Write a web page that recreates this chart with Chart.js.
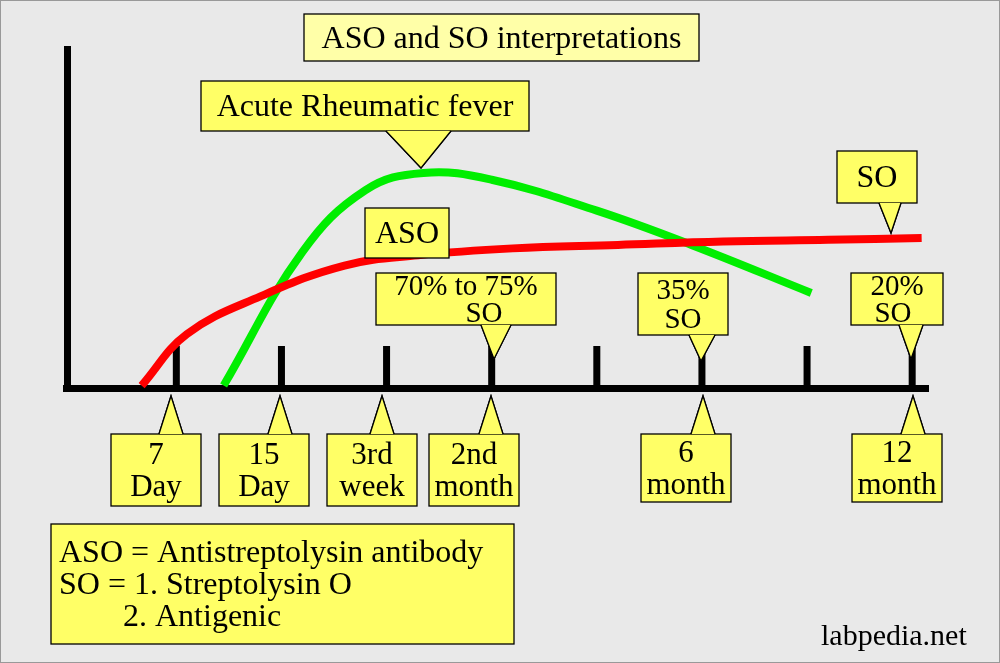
<!DOCTYPE html>
<html><head><meta charset="utf-8">
<script src="https://cdn.jsdelivr.net/npm/chart.js@4"></script>
<style>html,body{margin:0;padding:0;background:#e9e9e9}#w{width:1000px;height:663px;position:relative;box-sizing:border-box;border:1px solid #999}</style>
</head><body><div id="w"><canvas id="c" width="1000" height="663"></canvas></div>
<script>
const tickPositions=[1,2,3,4,5,6,7,8];
const soX=[0.67,1.1,1.8,2.6,3.3,4.2,5.2,6.2,7.2,8.09];
const soY=[1,16,27,36,39,41,42,43,43.5,44];
const asoX=[1.45,2.2,2.8,3.35,4.0,5.0,5.9,7.04];
const asoY=[1,40,58,63,61,52,42,28];
const bottomLabels=[["7","Day"],["15","Day"],["3rd","week"],["2nd","month"],["6","month"],["12","month"]];
const F='"Liberation Serif","DejaVu Serif",serif';
function pts(xs,ys){return xs.map((x,i)=>({x,y:ys[i]}));}
function callout(ctx,x,y,w,h,fill,tri,lines,fs,align,lhf){
 ctx.lineWidth=1.3;ctx.strokeStyle='#000';ctx.fillStyle=fill;
 if(tri){ctx.beginPath();ctx.moveTo(tri[0][0],tri[0][1]);ctx.lineTo(tri[1][0],tri[1][1]);ctx.lineTo(tri[2][0],tri[2][1]);ctx.closePath();ctx.fill();ctx.stroke();}
 ctx.fillRect(x,y,w,h);ctx.strokeRect(x,y,w,h);
 if(tri){ctx.beginPath();ctx.moveTo(tri[0][0],tri[0][1]);ctx.lineTo(tri[1][0],tri[1][1]);ctx.lineTo(tri[2][0],tri[2][1]);ctx.closePath();ctx.fill();
  ctx.beginPath();ctx.moveTo(tri[0][0],tri[0][1]);ctx.lineTo(tri[1][0],tri[1][1]);ctx.lineTo(tri[2][0],tri[2][1]);ctx.stroke();}
 ctx.fillStyle='#000';ctx.font=fs+'px '+F;ctx.textBaseline='middle';
 lines.forEach((l,i)=>{const t=l[0],dx=l[1]||0;const lh=fs*(lhf||1.0);const y0=y+h/2-(lines.length-1)*lh/2+i*lh+2;
  if(align==='left'){ctx.textAlign='left';ctx.fillText(t,x+8+dx,y0);}else{ctx.textAlign='center';ctx.fillText(t,x+w/2+dx,y0);}});
}
const deco={id:'deco',
 beforeDatasetsDraw(ch){const ctx=ch.ctx,xs=ch.scales.x,ys=ch.scales.y;ctx.save();
  const y0=ys.getPixelForValue(0);ctx.fillStyle='#000';
  ctx.fillRect(62,y0-4,866,7);ctx.fillRect(63,45,7,y0-42);
  tickPositions.forEach(t=>{const px=xs.getPixelForValue(t);ctx.fillRect(px-3.5,345,7,y0-345);});
  ctx.restore();},
 afterDraw(ch){const ctx=ch.ctx;ctx.save();
  const Y='#ffff66',P='#ffffa8';
  callout(ctx,303,13,395,47,P,null,[["ASO and SO interpretations"]],32);
  callout(ctx,200,80,328,50,Y,[[385,130],[420,167],[450,130]],[["Acute Rheumatic fever"]],32);
  callout(ctx,364,207,84,50,Y,null,[["ASO"]],32);
  callout(ctx,836,150,80,52,Y,[[878,202],[890,232],[900,202]],[["SO"]],32);
  callout(ctx,375,272,180,52,Y,[[480,324],[493,358],[510,324]],[["70% to 75%"],["SO",18]],29,null,0.95);
  callout(ctx,637,272,90,62,Y,[[688,334],[700,360],[714,334]],[["35%"],["SO"]],29,null,1.0);
  callout(ctx,850,272,92,52,Y,[[898,324],[910,358],[922,324]],[["20%"],["SO",-4]],29,null,0.95);
  const bx=[[110,170],[218,279],[326,381],[428,490],[640,702],[851,912]];
  bottomLabels.forEach((l,i)=>{const [x,ax]=bx[i];const h=i<4?72:68;
   callout(ctx,x,433,90,h,Y,[[ax-12,433],[ax,395],[ax+12,433]],[[l[0]],[l[1]]],31,null,1.05);});
  callout(ctx,50,523,463,120,Y,null,[["ASO = Antistreptolysin antibody"],["SO = 1. Streptolysin O"],["        2. Antigenic",0]],32,'left',1.0);
  ctx.fillStyle='#000';ctx.font='30px '+F;ctx.textAlign='left';ctx.textBaseline='middle';ctx.fillText('labpedia.net',820,636);
  ctx.restore();}};
new Chart(document.getElementById('c'),{type:'line',
 data:{datasets:[
  {label:'SO',data:pts(soX,soY),borderColor:'#ff0000',borderWidth:8,pointRadius:0,tension:0.4},
  {label:'ASO',data:pts(asoX,asoY),borderColor:'#00ee00',borderWidth:8,pointRadius:0,tension:0.4}]},
 options:{responsive:false,animation:false,events:[],layout:{padding:{left:66,top:45,right:72,bottom:275}},
  plugins:{legend:{display:false},tooltip:{enabled:false}},
  scales:{x:{type:'linear',min:-0.04,max:8.16,display:false},y:{min:0,max:100,display:false}}},
 plugins:[deco]});
</script></body></html>
